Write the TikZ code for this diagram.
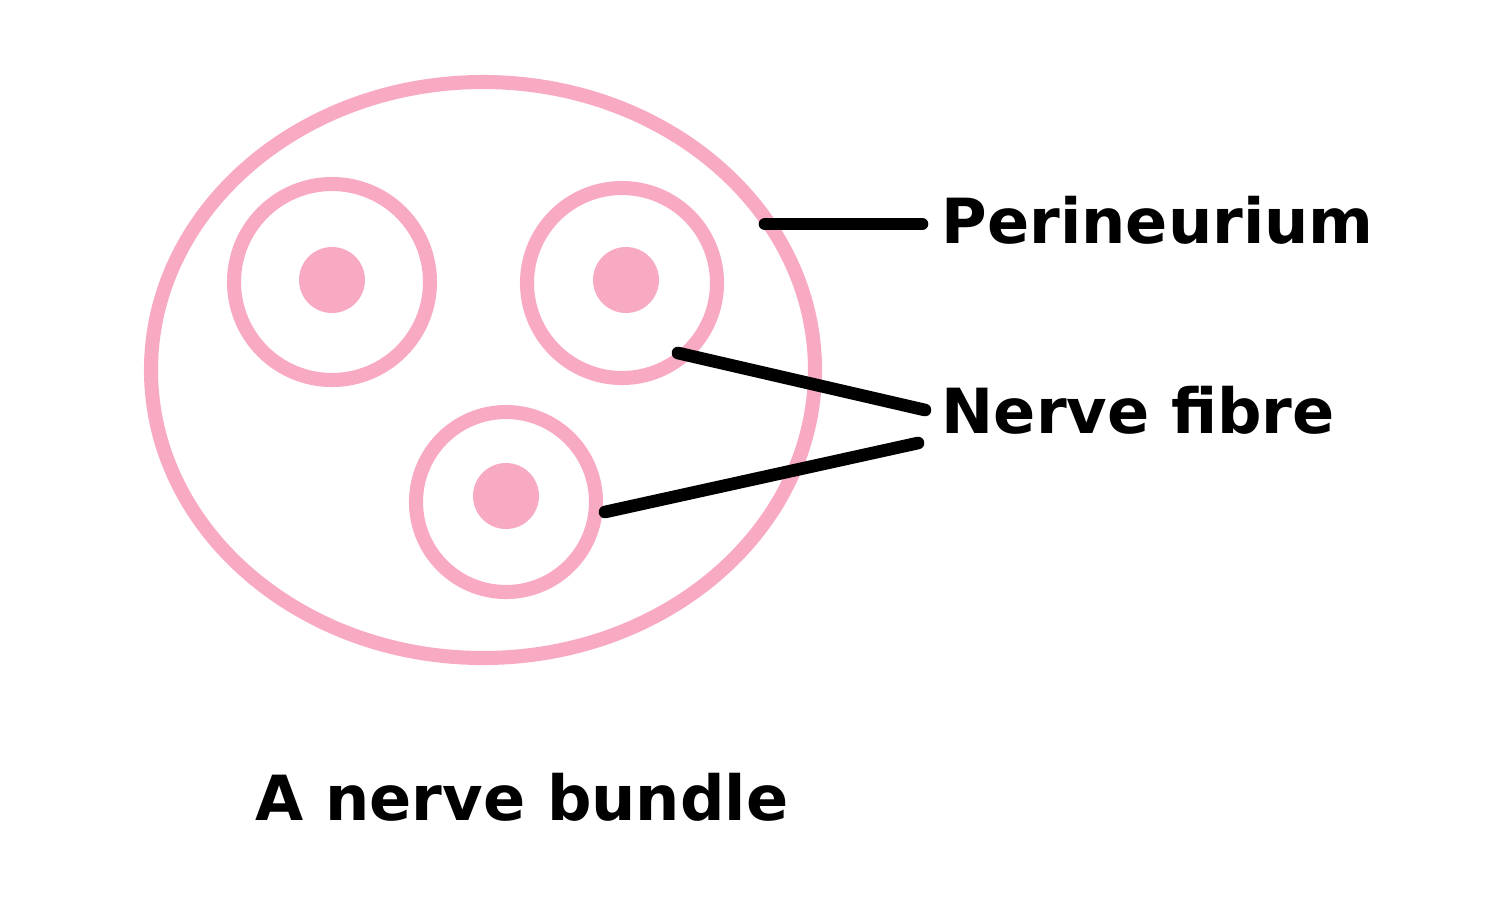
\documentclass[tikz,border=0pt]{standalone}
\usepackage{fontspec}
\setmainfont{DejaVu Sans}
\begin{document}
\begin{tikzpicture}[x=0.01cm,y=-0.01cm,
  ring/.style={draw=pinkc,line width=4pt},
  dot/.style={fill=pinkc},
  lbl/.style={font=\fontsize{17.7}{21}\selectfont\bfseries,inner sep=0pt,anchor=west},
  lead/.style={line width=3.6pt,line cap=round}]
\definecolor{pinkc}{RGB}{249,170,195}
\useasboundingbox (0,0) rectangle (1490,902);
\draw[ring] (483,370) ellipse [x radius=332,y radius=288];
\draw[ring] (332,282) circle (98);
\fill[dot] (332,280) circle (33);
\draw[ring] (622,283) circle (95);
\fill[dot] (626,280) circle (33);
\draw[ring] (506,502) circle (90);
\fill[dot] (506,496) circle (33);
\node[lbl] (per) at (941,220) {Perineurium};
\node[lbl] (nf) at (941,410) {Nerve fibre};
\node[inner sep=0pt,font=\fontsize{17.7}{21}\selectfont\bfseries] (cap) at (522,797) {A nerve bundle};
\coordinate (p1) at (765,224);
\coordinate (p2) at (922,224);
\coordinate (n1) at (678,353);
\coordinate (n2) at (925,410);
\coordinate (m1) at (605,512);
\coordinate (m2) at (918,443);
\draw[lead] (p1) -- (p2);
\draw[lead] (n1) -- (n2);
\draw[lead] (m1) -- (m2);
\end{tikzpicture}
\end{document}
